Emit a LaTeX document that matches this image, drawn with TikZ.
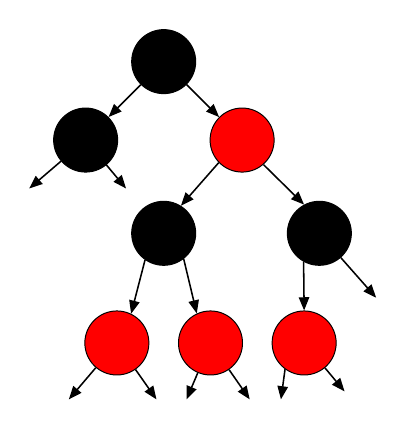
\documentclass[tikz,border=0pt]{standalone}
\usetikzlibrary{positioning,arrows.meta}

\tikzset{
	bnode/.style={circle, draw=black, fill=black, line width=0.7pt, minimum size=1.6cm, inner sep=0pt},
	rnode/.style={circle, draw=black, fill=red, line width=0.7pt, minimum size=1.6cm, inner sep=0pt},
	arr/.style={-{Triangle[length=0.33cm, width=0.26cm]}, line width=1.1pt},
}

\begin{document}
\begin{tikzpicture}[on grid]
		\useasboundingbox (-4.09,-9.18) rectangle (6.06,1.54);
		\node [bnode] (n1) {};
		\node [bnode, below left=1.96cm and 1.95cm of n1] (n2) {};
		\node [rnode, below right=1.96cm and 1.96cm of n1] (n3) {};
		\node [bnode, below left=2.33cm and 1.96cm of n3] (n4) {};
		\node [bnode, below right=2.33cm and 1.93cm of n3] (n5) {};
		\node [rnode, below left=2.74cm and 1.17cm of n4] (n6) {};
		\node [rnode, below right=2.74cm and 1.17cm of n4] (n7) {};
		\node [rnode, below left=2.74cm and 0.38cm of n5] (n8) {};
		
		\coordinate [below left=1.21cm and 1.41cm of n2] (l1);
		\coordinate [below right=1.21cm and 1.01cm of n2] (l2);
		\coordinate [below right=1.61cm and 1.42cm of n5] (l3);
		\coordinate [below left=1.41cm and 1.2cm of n6] (l4);
		\coordinate [below right=1.41cm and 0.99cm of n6] (l5);
		\coordinate [below left=1.41cm and 0.6cm of n7] (l6);
		\coordinate [below right=1.41cm and 0.98cm of n7] (l7);
		\coordinate [below left=1.41cm and 0.58cm of n8] (l8);
		\coordinate [below right=1.21cm and 1.01cm of n8] (l9);
		
		\draw [arr] (n1) -- (n2);
		\draw [arr] (n1) -- (n3);
		\draw [arr] (n3.224) -- (n4.58);
		\draw [arr] (n3.-49) -- (n5.118);
		\draw [arr] (n4.235) -- (n6.64);
		\draw [arr] (n4.-52) -- (n7.115);
		\draw [arr] (n5.241) -- (n8.90);
		\draw [arr] (n2) -- (l1);
		\draw [arr] (n2) -- (l2);
		\draw [arr] (n5) -- (l3);
		\draw [arr] (n6) -- (l4);
		\draw [arr] (n6) -- (l5);
		\draw [arr] (n7) -- (l6);
		\draw [arr] (n7) -- (l7);
		\draw [arr] (n8.234) -- (l8);
		\draw [arr] (n8) -- (l9);
	\end{tikzpicture}
\end{document}
